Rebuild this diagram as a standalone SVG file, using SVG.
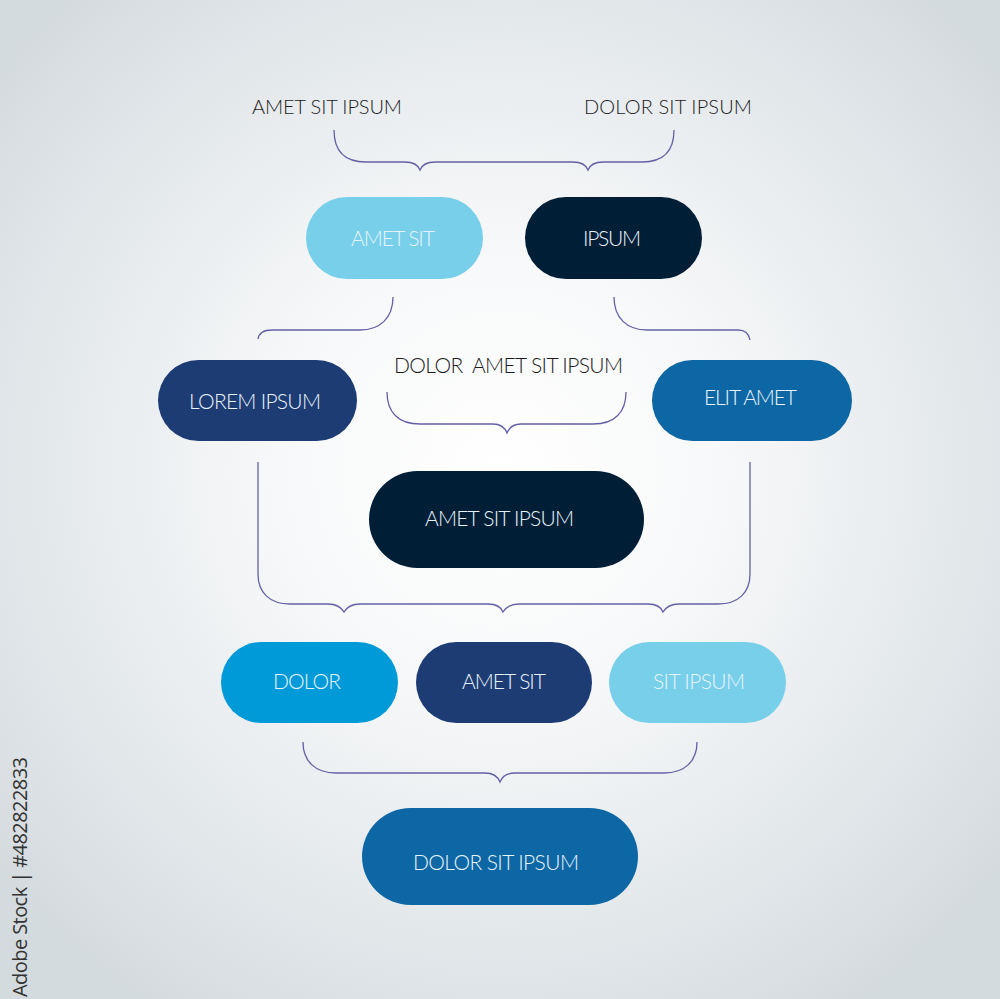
<svg xmlns="http://www.w3.org/2000/svg" width="1000" height="999" viewBox="0 0 1000 999">
  <defs>
    <radialGradient id="bg" cx="500" cy="470" r="640" gradientUnits="userSpaceOnUse">
      <stop offset="0" stop-color="#ffffff"/>
      <stop offset="0.35" stop-color="#f7f8f9"/>
      <stop offset="0.75" stop-color="#e2e7ea"/>
      <stop offset="1" stop-color="#d4dbdf"/>
    </radialGradient>
    <style>
      .conn { fill: none; stroke: #6460a6; stroke-width: 1.3; }
      .lbl { font-family: "Lato", "Open Sans", "Liberation Sans", sans-serif; font-weight: 300; fill: #1c1c1c; }
      .ntx { font-family: "Lato", "Open Sans", "Liberation Sans", sans-serif; font-weight: 300; fill: #e8f3f9; text-anchor: middle; font-size: 21px; }
      .lightblue { fill: #77cfea; }
      .navy { fill: #011e37; }
      .darkblue { fill: #1e3c74; }
      .midblue { fill: #0e67a5; }
      .bright { fill: #009ad9; }
    </style>
  </defs>
  <rect x="0" y="0" width="1000" height="999" fill="url(#bg)"/>

  <g id="labels">
    <text class="lbl" x="252" y="114" font-size="20" textLength="150">AMET SIT IPSUM</text>
    <text class="lbl" x="584" y="114" font-size="20" textLength="168">DOLOR SIT IPSUM</text>
    <text class="lbl" x="394" y="373" font-size="21" textLength="229" xml:space="preserve">DOLOR  AMET SIT IPSUM</text>
  </g>

  <g id="connectors">
    <path class="conn" d="M334,130 C334,150 344,162 366,162 L405,162 C413,162 418,165 420,170 C422,165 427,162 435,162 L573,162 C581,162 586,165 588,170 C590,165 595,162 603,162 L642,162 C664,162 674,150 674,130"/>
    <path class="conn" d="M393,297 C393,318 380,330 360,330 L272,330 C264,330 259,333 258,339"/>
    <path class="conn" d="M614,297 C614,318 627,330 647,330 L738,330 C745,330 749,334 750,340"/>
    <path class="conn" d="M387,392 C387,412 398,424 420,424 L493,424 C500,424 505,428 507,433 C509,428 514,424 521,424 L593,424 C615,424 626,412 626,392"/>
    <path class="conn" d="M258,462 L258,574 C258,593 270,604 290,604 L328,604 C336,604 341,607 344,612 C347,607 352,604 360,604 L488,604 C496,604 501,607 503,612 C506,607 511,604 519,604 L648,604 C656,604 661,607 663,612 C666,607 671,604 679,604 L718,604 C738,604 750,593 750,574 L750,462"/>
    <path class="conn" d="M303,742 C303,761 315,773 336,773 L485,773 C493,773 498,777 500,782 C502,777 507,773 515,773 L664,773 C685,773 697,761 697,742"/>
  </g>

  <g id="node-amet-sit-top">
    <rect class="lightblue" x="306" y="197" width="177" height="82" rx="41"/>
    <text class="ntx" x="393" y="246" textLength="84">AMET SIT</text>
  </g>
  <g id="node-ipsum">
    <rect class="navy" x="525" y="197" width="177" height="82" rx="41"/>
    <text class="ntx" x="612" y="246" textLength="58">IPSUM</text>
  </g>
  <g id="node-lorem-ipsum">
    <rect class="darkblue" x="158" y="360" width="199" height="81" rx="40.5"/>
    <text class="ntx" x="255" y="409" textLength="132">LOREM IPSUM</text>
  </g>
  <g id="node-elit-amet">
    <rect class="midblue" x="652" y="360" width="200" height="81" rx="40.5"/>
    <text class="ntx" x="750.5" y="405" textLength="93">ELIT AMET</text>
  </g>
  <g id="node-amet-sit-ipsum">
    <rect class="navy" x="369" y="471" width="275" height="97" rx="48.5"/>
    <text class="ntx" x="499.5" y="526" textLength="149">AMET SIT IPSUM</text>
  </g>
  <g id="node-dolor">
    <rect class="bright" x="221" y="642" width="177" height="81" rx="40.5"/>
    <text class="ntx" x="307" y="689" textLength="68">DOLOR</text>
  </g>
  <g id="node-amet-sit-mid">
    <rect class="darkblue" x="416" y="642" width="176" height="81" rx="40.5"/>
    <text class="ntx" x="504" y="689" textLength="84">AMET SIT</text>
  </g>
  <g id="node-sit-ipsum">
    <rect class="lightblue" x="609" y="642" width="177" height="81" rx="40.5"/>
    <text class="ntx" x="699" y="689" textLength="92">SIT IPSUM</text>
  </g>
  <g id="node-dolor-sit-ipsum">
    <rect class="midblue" x="362" y="808" width="276" height="97" rx="48.5"/>
    <text class="ntx" x="496" y="870" textLength="166">DOLOR SIT IPSUM</text>
  </g>

  <text x="0" y="0" transform="translate(27,997) rotate(-90)" font-family="'Open Sans', 'Liberation Sans', sans-serif" font-size="20" fill="#333333" textLength="240">Adobe Stock | #482822833</text>
</svg>
